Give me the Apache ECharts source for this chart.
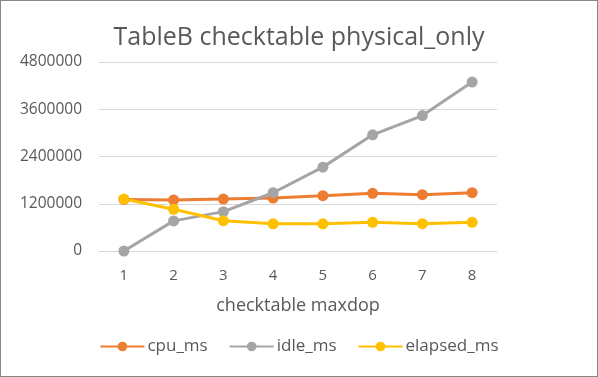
<!DOCTYPE html>
<html>
<head>
<meta charset="utf-8">
<script src="https://cdn.jsdelivr.net/npm/echarts@6/dist/echarts.min.js"></script>
<style>
html, body { margin: 0; padding: 0; background: #fff; }
#chart { width: 596px; height: 375px; border: 1px solid #878787; }
</style>
</head>
<body>
<div id="chart"></div>
<script>
var categories = ["1", "2", "3", "4", "5", "6", "7", "8"];
var cpu_ms = [1310000, 1295000, 1320000, 1345000, 1405000, 1465000, 1430000, 1480000];
var idle_ms = [0, 765000, 1000000, 1480000, 2130000, 2950000, 3440000, 4290000];
var elapsed_ms = [1320000, 1060000, 770000, 690000, 690000, 730000, 695000, 730000];

var fontName = "'Open Sans', 'Noto Sans', sans-serif";
var textColor = "#595959";

function makeSeries(name, data, color) {
    return {
        name: name,
        type: 'line',
        data: data,
        symbol: 'circle',
        symbolSize: 11,
        itemStyle: { color: color },
        lineStyle: { color: color, width: 3 }
    };
}

var chart = echarts.init(document.getElementById("chart"));
chart.setOption({
    animation: false,
    title: {
        text: 'TableB checktable physical_only',
        left: 'center',
        top: 19,
        textStyle: { fontFamily: fontName, fontSize: 25, fontWeight: 'normal', color: textColor }
    },
    legend: {
        bottom: 16,
        left: 'center',
        itemWidth: 44,
        itemHeight: 12,
        itemGap: 21,
        textStyle: { fontFamily: fontName, fontSize: 17, color: textColor, padding: [0, 0, 0, -2] },
        data: ['cpu_ms', 'idle_ms', 'elapsed_ms']
    },
    grid: { left: 98, right: 100, top: 61, bottom: 125 },
    xAxis: {
        type: 'category',
        data: categories,
        name: 'checktable maxdop',
        nameLocation: 'middle',
        nameGap: 46,
        nameTextStyle: { fontFamily: fontName, fontSize: 18, color: textColor },
        axisLine: { lineStyle: { color: '#d9d9d9' } },
        axisTick: { show: false },
        axisLabel: { fontFamily: fontName, fontSize: 15, color: textColor, margin: 17 }
    },
    yAxis: {
        type: 'value',
        min: 0,
        max: 4800000,
        interval: 1200000,
        axisLine: { show: false },
        axisTick: { show: false },
        axisLabel: {
            fontFamily: fontName, fontSize: 15.5, color: textColor, margin: 17,
            formatter: function (v) { return String(v); }
        },
        splitLine: { lineStyle: { color: '#d9d9d9' } }
    },
    series: [
        makeSeries('cpu_ms', cpu_ms, '#ED7D31'),
        makeSeries('idle_ms', idle_ms, '#A5A5A5'),
        makeSeries('elapsed_ms', elapsed_ms, '#FFC000')
    ]
});
</script>
</body>
</html>
